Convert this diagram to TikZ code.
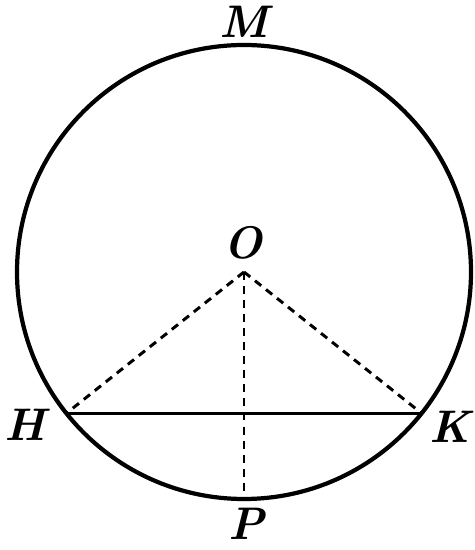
\documentclass[tikz,border=0pt]{standalone}
\usepackage{tikz}
\begin{document}
\begin{tikzpicture}[x=0.02cm, y=0.02cm]
\tikzset{
  rim/.style={line width=2.4pt},
  chord/.style={line width=1.7pt},
  radiusline/.style={line width=1.7pt, dash pattern=on 4.5pt off 3.5pt},
  letter/.style={font=\fontsize{26}{26}\selectfont\bfseries\itshape, inner sep=0pt}
}
\useasboundingbox (-244,-278) rectangle (230,272);

\coordinate (O) at (0,0);
\coordinate (H) at (218.5:227);
\coordinate (K) at (-38.5:227);
\coordinate (P) at (0,-227);

\draw [rim] (O) circle (227);
\draw [chord] (H) -- (K);

\draw [radiusline] (O) -- (H);
\draw [radiusline] (O) -- (K);
\draw [radiusline] (O) -- (P);

\node [letter] (labM) at (0,250) {M};
\node [letter] (labO) at (-1,29) {O};
\node [letter] (labH) at (-219,-153) {H};
\node [letter] (labK) at (206,-155) {K};
\node [letter] (labP) at (2,-252) {P};

\end{tikzpicture}
\end{document}
